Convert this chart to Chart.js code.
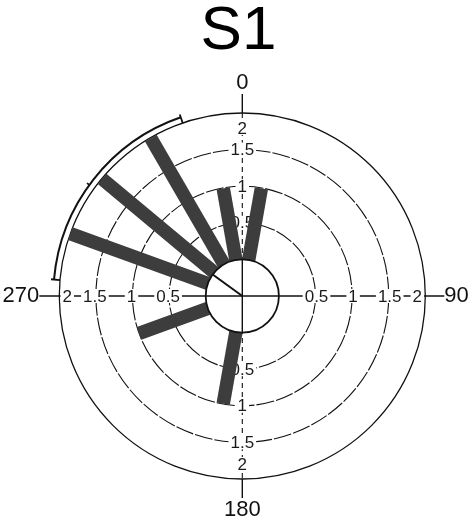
<!DOCTYPE html>
<html><head><meta charset="utf-8">
<script src="https://cdn.jsdelivr.net/npm/chart.js@4.4.0/dist/chart.umd.min.js"></script>
<style>html,body{margin:0;padding:0;background:#fff}#wrap{width:474px;height:523px;position:relative}</style>
</head><body><div id="wrap"><canvas id="c"></canvas></div>
<script>
// ---- data ----
const chartTitle = 'S1';
const binCenters = [10, 30, 50, 70, 90, 110, 130, 150, 170, 190, 210, 230, 250, 270, 290, 310, 330, 350];
const counts =     [1,  0,  0,  0,  0,  0,   0,   0,   0,   1,   0,   0,   1,   0,   2,   2,   2,   1];
const ringTicks = [0.5, 1, 1.5, 2];
const ringLabels = ['0.5', '1', '1.5', '2'];
const angleDirs = [0, 90, 180, 270];
const angleLabels = ['0', '90', '180', '270'];
const meanDirection = 306;
const confidenceArc = [275, 341];

// ---- helpers ----
const HOLE = 0.5;          // radius of central hole in scale units
const RMAX = ringTicks[ringTicks.length - 1];
const BAR_COLOR = '#3d3d3d';
function toXY(bearing, value) {
  const r = HOLE + value, a = bearing * Math.PI / 180;
  return { x: r * Math.sin(a), y: r * Math.cos(a) };
}

const datasets = [];
binCenters.forEach((b, i) => {
  if (counts[i] > 0) {
    datasets.push({
      label: String(b),
      data: [toXY(b, 0), toXY(b, counts[i])],
      showLine: true,
      borderColor: BAR_COLOR,
      backgroundColor: BAR_COLOR,
      borderWidth: 13.5,
      borderCapStyle: 'butt',
      pointRadius: 0,
      pointHoverRadius: 0,
      fill: false
    });
  }
});

const polarDecor = {
  id: 'polarDecor',
  beforeDatasetsDraw(chart) {
    const ctx = chart.ctx, xs = chart.scales.x, ys = chart.scales.y;
    const cx = xs.getPixelForValue(0), cy = ys.getPixelForValue(0);
    const unit = xs.getPixelForValue(1) - cx;
    const rp = v => (HOLE + v) * unit;
    const R = rp(RMAX);
    ctx.save();
    ctx.strokeStyle = '#111';
    // rings
    ringTicks.forEach(t => {
      ctx.beginPath();
      ctx.lineWidth = t === RMAX ? 1.3 : 1.1;
      ctx.setLineDash(t === RMAX ? [] : [18, 2]);
      ctx.arc(cx, cy, rp(t), 0, Math.PI * 2);
      ctx.stroke();
    });
    ctx.setLineDash([]);
    ctx.lineWidth = 1.4;
    // horizontal axis (solid)
    ctx.beginPath();
    ctx.moveTo(cx - R - 20, cy); ctx.lineTo(cx + R + 19, cy);
    ctx.stroke();
    // vertical axis: solid outside, dashed inside
    ctx.beginPath();
    ctx.moveTo(cx, cy - R - 19); ctx.lineTo(cx, cy - R);
    ctx.moveTo(cx, cy + R); ctx.lineTo(cx, cy + R + 19);
    ctx.stroke();
    ctx.lineWidth = 1.1;
    ctx.setLineDash([5, 4]);
    ctx.beginPath();
    ctx.moveTo(cx, cy - R); ctx.lineTo(cx, cy + R);
    ctx.stroke();
    ctx.setLineDash([]);
    // ring tick labels
    ctx.font = '17px "Liberation Sans", Arial, sans-serif';
    ctx.textAlign = 'center';
    ctx.textBaseline = 'middle';
    ringTicks.forEach((t, i) => {
      const txt = ringLabels[i];
      const w = ctx.measureText(txt).width;
      const rh = t === RMAX ? rp(t) - 8 : rp(t) + 1;
      const rv = t === RMAX ? rp(t) - 15 : rp(t);
      const pts = [[cx + rh, cy], [cx - rh, cy], [cx, cy - rv], [cx, cy + rv]];
      pts.forEach(p => {
        ctx.fillStyle = '#fff';
        ctx.fillRect(p[0] - w / 2 - 2, p[1] - 7, w + 4, 14);
        ctx.fillStyle = '#1a1a1a';
        ctx.fillText(txt, p[0], p[1] + 1);
      });
    });
    // angle labels
    ctx.font = '22px "Liberation Sans", Arial, sans-serif';
    ctx.fillStyle = '#111';
    angleDirs.forEach((d, i) => {
      const txt = angleLabels[i];
      if (d === 0) { ctx.textAlign = 'center'; ctx.textBaseline = 'alphabetic'; ctx.fillText(txt, cx, cy - R - 23.5); }
      else if (d === 180) { ctx.textAlign = 'center'; ctx.textBaseline = 'alphabetic'; ctx.fillText(txt, cx, cy + R + 37); }
      else if (d === 90) { ctx.textAlign = 'left'; ctx.textBaseline = 'middle'; ctx.fillText(txt, cx + R + 19, cy); }
      else { ctx.textAlign = 'right'; ctx.textBaseline = 'middle'; ctx.fillText(txt, cx - R - 20, cy); }
    });
    ctx.restore();
  },
  afterDatasetsDraw(chart) {
    const ctx = chart.ctx, xs = chart.scales.x, ys = chart.scales.y;
    const cx = xs.getPixelForValue(0), cy = ys.getPixelForValue(0);
    const unit = xs.getPixelForValue(1) - cx;
    const rp = v => (HOLE + v) * unit;
    const R = rp(RMAX), h = rp(0);
    const ang = b => (b - 90) * Math.PI / 180;
    ctx.save();
    // hole
    ctx.beginPath();
    ctx.arc(cx, cy, h, 0, Math.PI * 2);
    ctx.fillStyle = '#fff';
    ctx.fill();
    ctx.lineWidth = 1.8;
    ctx.strokeStyle = '#111';
    ctx.stroke();
    ctx.lineWidth = 1.4;
    ctx.beginPath();
    ctx.moveTo(cx - h, cy); ctx.lineTo(cx + h, cy);
    ctx.moveTo(cx, cy - h); ctx.lineTo(cx, cy + h);
    ctx.stroke();
    // mean direction line
    ctx.lineWidth = 2;
    ctx.beginPath();
    ctx.moveTo(cx, cy);
    ctx.lineTo(cx + h * Math.cos(ang(meanDirection)), cy + h * Math.sin(ang(meanDirection)));
    ctx.stroke();
    // confidence arc
    const ra = R + 6;
    ctx.lineWidth = 2;
    ctx.beginPath();
    ctx.arc(cx, cy, ra, ang(confidenceArc[0]), ang(confidenceArc[1]));
    ctx.stroke();
    ctx.lineWidth = 1.8;
    [confidenceArc[0], confidenceArc[1], meanDirection].forEach((b, k) => {
      const r0 = k < 2 ? R : ra, r1 = ra + 3;
      ctx.beginPath();
      ctx.moveTo(cx + r0 * Math.cos(ang(b)), cy + r0 * Math.sin(ang(b)));
      ctx.lineTo(cx + r1 * Math.cos(ang(b)), cy + r1 * Math.sin(ang(b)));
      ctx.stroke();
    });
    ctx.restore();
  }
};

new Chart(document.getElementById('c'), {
  type: 'scatter',
  data: { datasets },
  options: {
    responsive: true,
    maintainAspectRatio: false,
    animation: false,
    events: [],
    layout: { padding: { left: 8, right: 5, top: 0, bottom: 8 } },
    scales: {
      x: { type: 'linear', min: -3.2008, max: 3.097, bounds: 'data', display: false },
      y: { type: 'linear', min: -3.005, max: 3.21, bounds: 'data', display: false }
    },
    plugins: {
      legend: { display: false },
      tooltip: { enabled: false },
      title: {
        display: true, text: chartTitle, color: '#000',
        font: { family: '"Liberation Sans", Arial, sans-serif', size: 62, weight: 'normal', lineHeight: 0.968 },
        padding: { top: 2, bottom: 0 }
      }
    }
  },
  plugins: [polarDecor]
});
</script>
</body></html>
